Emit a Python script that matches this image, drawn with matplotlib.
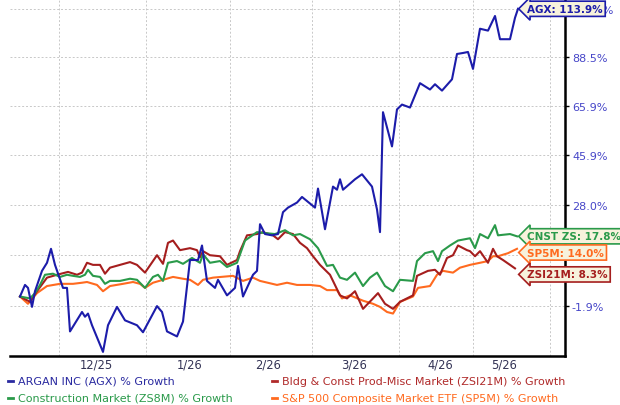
import numpy as np
import matplotlib
matplotlib.use("Agg")
import matplotlib.pyplot as plt

# time positions (chart time units) and % growth values
agx_t = [20,25,28,32,35,42,47,51,55,63,67,70,82,85,88,92,103,108,117,125,137,143,157,162,167,177,183,190,198,202,207,215,218,227,235,238,243,253,257,260,265,272,278,283,288,297,302,315,318,325,333,337,340,343,355,362,372,377,380,383,392,397,402,410,420,430,435,442,452,457,463,468,473,480,488,495,500,510,515,518]
agx_v = [0.6,3.7,2.9,-2.1,2.0,7.6,9.9,14.0,9.3,2.9,2.9,-8.2,-3.4,-4.6,-3.8,-6.7,-13.0,-6.7,-2.1,-5.5,-6.7,-8.4,-1.9,-3.4,-8.2,-9.4,-5.8,10.7,10.7,15.0,4.8,2.9,5.1,0.9,2.9,9.0,0.6,6.5,7.6,21.6,18.5,18.1,18.5,25.5,27.0,28.7,30.6,27.0,33.5,20.0,34.2,33.1,36.8,33.1,36.8,38.6,34.2,26.4,19.1,63.1,49.1,64.3,66.4,65.1,76.0,73.1,75.5,72.6,77.8,90.0,90.5,91.0,82.7,103.0,102.0,109.9,97.5,97.5,108.9,113.9]

zsi_t = [20,30,37,47,57,68,77,82,87,93,100,105,110,120,130,137,145,157,163,168,173,180,190,197,200,203,210,220,227,237,240,247,257,263,273,278,285,293,300,307,313,320,330,340,347,355,363,373,378,385,393,400,413,417,428,435,440,447,453,458,467,470,475,480,488,493,497,503,510,515]
zsi_v = [0.6,-0.8,2.0,5.7,6.5,7.3,6.5,7.1,9.9,9.3,9.3,6.8,8.5,9.3,10.1,9.3,7.1,12.1,9.6,15.8,16.5,13.6,14.2,13.6,11.5,13.3,12.1,11.8,9.3,10.7,13.3,18.1,18.5,19.1,18.1,16.9,19.1,18.5,15.8,14.2,11.8,9.3,6.5,0.9,0.1,2.0,-2.6,0.1,1.5,-1.3,-2.6,-0.8,0.9,6.2,7.6,7.9,6.5,11.3,12.1,15.0,13.6,13.3,11.8,13.3,9.9,14.0,11.8,10.7,9.3,8.3]

cnst_t = [20,30,35,40,45,53,60,67,73,80,85,88,93,100,105,110,120,130,137,145,153,158,163,168,177,183,192,200,203,210,220,227,237,245,257,265,275,285,293,300,310,318,327,333,340,347,355,363,370,377,385,393,400,413,417,425,433,438,442,450,458,470,475,480,488,495,498,510,517]
cnst_v = [0.6,0.1,1.5,3.7,6.5,6.8,5.9,6.5,6.2,5.9,6.5,7.9,6.2,5.9,4.0,4.8,4.8,5.4,5.1,2.9,5.9,6.5,4.8,9.9,10.4,9.6,11.3,9.9,12.4,9.9,10.4,8.7,9.9,16.5,19.1,18.8,18.5,19.7,18.1,18.5,16.9,14.2,9.0,9.3,5.7,5.1,7.1,3.4,5.7,7.1,3.4,2.0,5.1,4.8,10.4,12.7,13.3,10.4,13.3,15.0,16.5,17.2,14.2,18.5,17.2,21.3,18.1,18.5,17.8]

sp5_t = [20,28,37,47,60,73,82,87,97,103,110,123,133,140,145,153,163,173,183,190,198,203,213,233,243,253,260,277,287,297,310,320,327,337,342,350,363,373,380,387,393,400,413,418,430,437,443,453,460,470,480,488,493,498,508,517]
sp5_v = [0.6,-1.3,1.5,3.4,4.0,4.0,4.3,4.5,3.7,2.0,3.4,4.0,4.5,4.0,2.9,4.3,5.1,5.9,5.4,5.1,3.7,5.1,5.7,6.2,4.8,5.7,4.8,3.7,4.3,3.7,3.7,3.4,2.3,2.3,0.1,0.9,-0.5,-1.3,-2.1,-3.4,-3.8,-0.8,0.6,2.9,3.4,6.5,7.6,7.1,8.5,9.3,9.9,10.4,11.8,11.8,12.7,14.0]

ytick_vals = [-1.9, 12.1, 28.0, 45.9, 65.9, 88.5, 113.9]
month_bounds = [59,146,230,312,399,473,550]
month_pos = [96,190,268,354,440,504]
month_labels = ["12/25","1/26","2/26","3/26","4/26","5/26"]

def tr(v):
    return np.log1p(np.asarray(v) / 100.0)

fig = plt.figure(figsize=(6.2, 4.06), dpi=100)
ax = fig.add_axes([10/620, 1 - 357/406, 555/620, 357/406])
ax.set_xlim(10, 565)
ax.set_ylim(-0.150, 0.786)

series = [
    (agx_t, agx_v, "#1c1caa", "AGX: 113.9%"),
    (zsi_t, zsi_v, "#a51e1e", "ZSI21M: 8.3%"),
    (cnst_t, cnst_v, "#2a9a4a", "CNST ZS: 17.8%"),
    (sp5_t, sp5_v, "#ff6a1f", "SP5M: 14.0%"),
]
order = [3, 1, 2, 0]
for i in order:
    t, v, c, _ = series[i]
    ax.plot(t, tr(v), color=c, lw=1.5, zorder=3)

ax.set_yticks(tr(ytick_vals))
ax.set_yticklabels([f"{v:.1f}%" for v in ytick_vals], color="#4646c8", fontsize=8)
ax.yaxis.tick_right()
ax.tick_params(axis="y", length=3, width=1, pad=2)
ax.set_xticks(month_bounds)
ax.set_xticklabels([])
ax.tick_params(axis="x", length=0)
ax.grid(True, color="#c8c8c8", ls=(0, (2, 2)), lw=0.7)
for x, l in zip(month_pos, month_labels):
    fig.text(x / 620, 1 - 365 / 406, l, ha="center", va="center", fontsize=8.3, color="#333355")
for s in ["top", "left"]:
    ax.spines[s].set_visible(False)
ax.spines["right"].set_linewidth(1.8)
ax.spines["bottom"].set_linewidth(1.8)

# end labels
lab_pos = {0: 113.9, 2: 17.8, 3: 12.9, 1: 6.6}
for i, yv in lab_pos.items():
    t, v, c, txt = series[i]
    ax.text(527, tr(yv), txt, fontsize=7.5, fontweight="bold", color=c, va="center", ha="left",
            clip_on=False, zorder=5,
            bbox=dict(boxstyle="larrow,pad=0.25", fc="#f7f2dc", ec=c, lw=1.2))

# legend
leg = [
    (8, 382, "#2a2aa0", "ARGAN INC (AGX) % Growth"),
    (272, 382, "#b02a2a", "Bldg & Const Prod-Misc Market (ZSI21M) % Growth"),
    (8, 399, "#2a9a4a", "Construction Market (ZS8M) % Growth"),
    (272, 399, "#ff6a1f", "S&P 500 Composite Market ETF (SP5M) % Growth"),
]
for x, y, c, txt in leg:
    fig.add_artist(plt.Line2D([x / 620, (x + 5) / 620], [1 - y / 406] * 2, color=c, lw=2))
    fig.text((x + 10) / 620, 1 - y / 406, txt, color=c, fontsize=8, va="center")

fig.savefig("out.png", dpi=100)
